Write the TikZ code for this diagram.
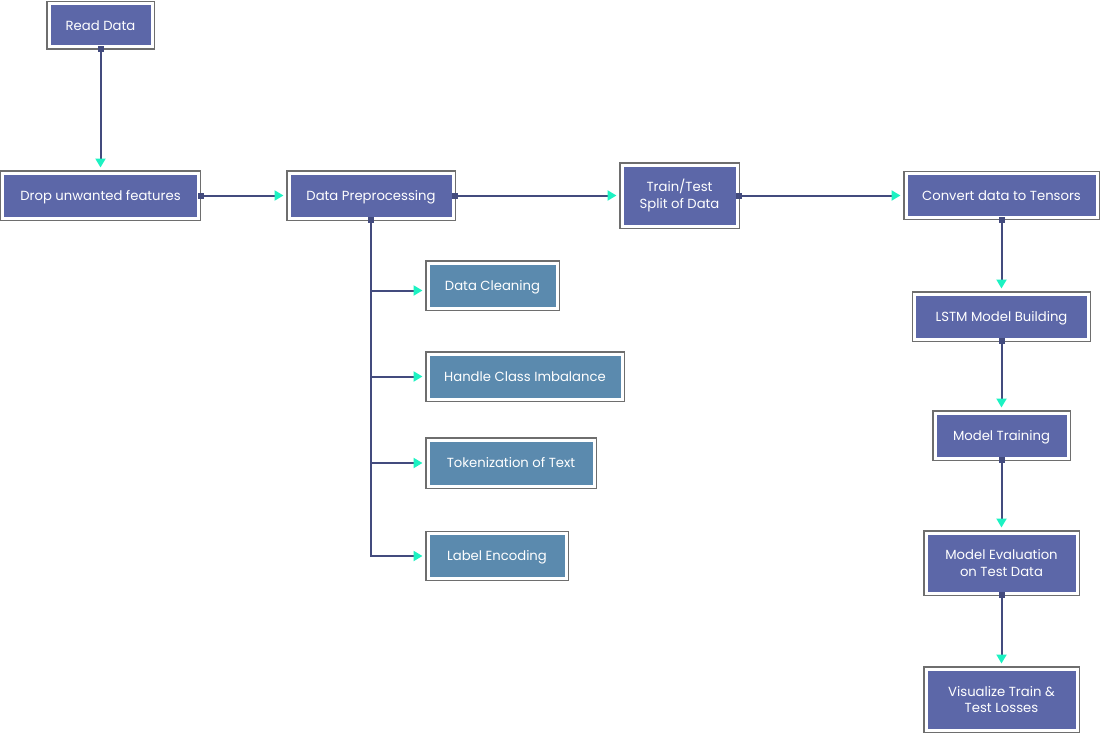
\documentclass[tikz,border=0pt]{standalone}
\usepackage{fontspec}
\setmainfont{Poppins}
\usetikzlibrary{arrows.meta}
\definecolor{boxpurple}{HTML}{5C67A8}
\definecolor{boxteal}{HTML}{5B8AAE}
\definecolor{linenavy}{HTML}{434B7E}
\definecolor{tipcyan}{HTML}{1CF2C2}
\definecolor{framegray}{HTML}{6E6E6E}
\begin{document}
\begin{tikzpicture}[x=1pt,y=-1pt,
  box/.style={preaction={draw=framegray,line width=5.2pt},fill=boxpurple,draw=white,line width=3pt,
    inner sep=0pt,align=center,text=white,font=\fontsize{13.2}{16.5}\selectfont},
  one/.style={text height=12pt,text depth=2.8pt},
  tealbox/.style={box,fill=boxteal},
  conn/.style={draw=linenavy,line width=2pt,
    {Square[length=6pt,width=6pt,color=linenavy,sep=-2.5pt]}-{Triangle[length=9pt,width=10pt,color=tipcyan]},
    shorten >=4pt},
  branch/.style={conn,-{Triangle[length=9pt,width=10pt,color=tipcyan]}}]
\useasboundingbox (0,0) rectangle (1100,733);
\node[box,one,minimum width=103pt,minimum height=43pt] (read) at (100.5,25.5) {Read Data};
\node[box,one,minimum width=196pt,minimum height=45pt] (drop) at (100.5,195.5) {Drop unwanted features};
\node[box,one,minimum width=164pt,minimum height=45pt] (pre) at (371,195.5) {Data Preprocessing};
\node[box,minimum width=115pt,minimum height=61pt] (split) at (679.5,195.5) {Train/Test\\Split of Data};
\node[box,one,minimum width=191pt,minimum height=44pt] (tens) at (1001.5,195.5) {Convert data to Tensors};
\node[tealbox,one,minimum width=129pt,minimum height=45pt] (clean) at (492.5,285.5) {Data Cleaning};
\node[tealbox,one,minimum width=194pt,minimum height=45pt] (imb) at (525,376.5) {Handle Class Imbalance};
\node[tealbox,one,minimum width=166pt,minimum height=46pt] (tok) at (511,463) {Tokenization of Text};
\node[tealbox,one,minimum width=138pt,minimum height=45pt] (lab) at (497,556) {Label Encoding};
\node[box,one,minimum width=174pt,minimum height=45pt] (lstm) at (1001.5,316.5) {LSTM Model Building};
\node[box,one,minimum width=133pt,minimum height=45pt] (train) at (1001.5,435.5) {Model Training};
\node[box,minimum width=151pt,minimum height=60pt] (eval) at (1001.5,563) {Model Evaluation\\on Test Data};
\node[box,minimum width=151pt,minimum height=61pt] (vis) at (1001.5,699.5) {Visualize Train \&\\Test Losses};
\draw[conn] (read.south) -- (drop.north);
\draw[conn] (drop.east) -- (pre.west);
\draw[conn] (pre.east) -- (split.west);
\draw[conn] (split.east) -- (tens.west);
\draw[conn] (tens.south) -- (lstm.north);
\draw[conn] (lstm.south) -- (train.north);
\draw[conn] (train.south) -- (eval.north);
\draw[conn] (eval.south) -- (vis.north);
\draw[conn] (pre.south) |- ([yshift=-5pt]clean.west);
\draw[branch] (pre.south) |- (imb.west);
\draw[branch] (pre.south) |- (tok.west);
\draw[branch] (pre.south) |- (lab.west);
\end{tikzpicture}
\end{document}
